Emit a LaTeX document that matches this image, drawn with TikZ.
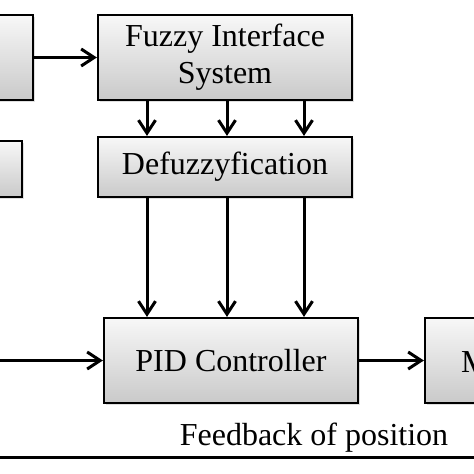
\documentclass[tikz,border=0pt]{standalone}
\usepackage{fontspec}
\setmainfont{Liberation Serif}
\usetikzlibrary{arrows.meta}
\usetikzlibrary{shadows}
\usetikzlibrary{positioning}

\tikzset{
  fuzzybox/.style={draw=black, line width=2.2pt, top color=gray!6, bottom color=gray!42,
    drop shadow={shadow xshift=2pt, shadow yshift=-2pt, opacity=0.25},
    align=center, inner sep=0pt, font=\fontsize{32}{37}\selectfont},
  flow/.style={line width=3pt, -{Straight Barb[length=13pt, width=17pt]}}
}

\begin{document}
\begin{tikzpicture}[x=1pt, y=-1pt]

\useasboundingbox (0,0) rectangle (474,474);
\clip (0,0) rectangle (474,474);

% left blocks
\node[fuzzybox, minimum width=93pt, minimum height=85pt] (inbox) at (-13.5,57.5) {};
\node[fuzzybox, minimum width=82pt, minimum height=56pt] (refbox) at (-19,169) {};

% fuzzy part
\node[fuzzybox, minimum width=254pt, minimum height=85pt] (fis) at (225,57.5) {Fuzzy Interface\\System};
\node[fuzzybox, minimum width=254pt, minimum height=60pt] (defuzz) at (225,167) {Defuzzyfication};

% PID and plant
\node[fuzzybox, minimum width=254pt, minimum height=85pt] (pid) at (231,360.5) {PID Controller};
\node[fuzzybox, minimum width=105pt, minimum height=85pt] (plant) at (477.5,360.5) {};
\node[anchor=west, inner sep=0pt, font=\fontsize{32}{37}\selectfont] (plantlabel) at (461,362) {M};

% connectors
\draw[flow] (inbox.east) -- (fis.west);
\foreach \px in {147,227,304} {
  \draw[flow] (fis.south -| \px,0) -- (defuzz.north -| \px,0);
  \draw[flow] (defuzz.south -| \px,0) -- (pid.north -| \px,0);
}
\coordinate (setin) at (0,360.5);
\draw[flow] (setin) -- (pid.west);
\draw[flow] (pid.east) -- (plant.west);

% feedback
\node[anchor=base, inner sep=0pt, font=\fontsize{32}{37}\selectfont] (fbtext) at (314,445) {Feedback of position};
\coordinate (fbright) at (474,457);
\coordinate (fbleft) at (0,457);
\draw[line width=3pt] (fbright) -- (fbleft);

\end{tikzpicture}
\end{document}
